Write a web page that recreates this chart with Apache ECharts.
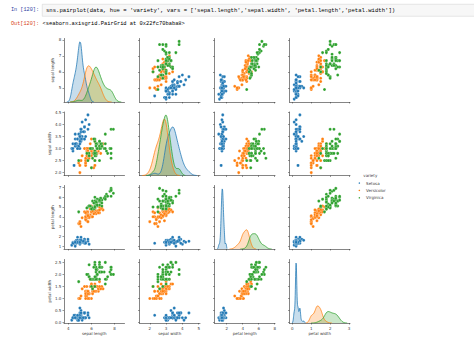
<!DOCTYPE html>
<html><head><meta charset="utf-8">
<script src="https://cdn.jsdelivr.net/npm/echarts@6/dist/echarts.min.js"></script>
<style>html,body{margin:0;padding:0;background:#fff;}#c{width:474px;height:348px;}</style>
</head><body><div id="c"></div>
<script>
// ---------------- DATA (iris) ----------------
const varieties = ['Setosa', 'Versicolor', 'Virginica'];
const varLabels = ['sepal length', 'sepal width', 'petal length', 'petal width'];

const setosaSepalLength = [5.1,4.9,4.7,4.6,5.0,5.4,4.6,5.0,4.4,4.9,5.4,4.8,4.8,4.3,5.8,5.7,5.4,5.1,5.7,5.1,5.4,5.1,4.6,5.1,4.8,5.0,5.0,5.2,5.2,4.7,4.8,5.4,5.2,5.5,4.9,5.0,5.5,4.9,4.4,5.1,5.0,4.5,4.4,5.0,5.1,4.8,5.1,4.6,5.3,5.0];
const setosaSepalWidth = [3.5,3.0,3.2,3.1,3.6,3.9,3.4,3.4,2.9,3.1,3.7,3.4,3.0,3.0,4.0,4.4,3.9,3.5,3.8,3.8,3.4,3.7,3.6,3.3,3.4,3.0,3.4,3.5,3.4,3.2,3.1,3.4,4.1,4.2,3.1,3.2,3.5,3.6,3.0,3.4,3.5,2.3,3.2,3.5,3.8,3.0,3.8,3.2,3.7,3.3];
const setosaPetalLength = [1.4,1.4,1.3,1.5,1.4,1.7,1.4,1.5,1.4,1.5,1.5,1.6,1.4,1.1,1.2,1.5,1.3,1.4,1.7,1.5,1.7,1.5,1.0,1.7,1.9,1.6,1.6,1.5,1.4,1.6,1.6,1.5,1.5,1.4,1.5,1.2,1.3,1.4,1.3,1.5,1.3,1.3,1.3,1.6,1.9,1.4,1.6,1.4,1.5,1.4];
const setosaPetalWidth = [0.2,0.2,0.2,0.2,0.2,0.4,0.3,0.2,0.2,0.1,0.2,0.2,0.1,0.1,0.2,0.4,0.4,0.3,0.3,0.3,0.2,0.4,0.2,0.5,0.2,0.2,0.4,0.2,0.2,0.2,0.2,0.4,0.1,0.2,0.2,0.2,0.2,0.1,0.2,0.2,0.3,0.3,0.2,0.6,0.4,0.3,0.2,0.2,0.2,0.2];

const versicolorSepalLength = [7.0,6.4,6.9,5.5,6.5,5.7,6.3,4.9,6.6,5.2,5.0,5.9,6.0,6.1,5.6,6.7,5.6,5.8,6.2,5.6,5.9,6.1,6.3,6.1,6.4,6.6,6.8,6.7,6.0,5.7,5.5,5.5,5.8,6.0,5.4,6.0,6.7,6.3,5.6,5.5,5.5,6.1,5.8,5.0,5.6,5.7,5.7,6.2,5.1,5.7];
const versicolorSepalWidth = [3.2,3.2,3.1,2.3,2.8,2.8,3.3,2.4,2.9,2.7,2.0,3.0,2.2,2.9,2.9,3.1,3.0,2.7,2.2,2.5,3.2,2.8,2.5,2.8,2.9,3.0,2.8,3.0,2.9,2.6,2.4,2.4,2.7,2.7,3.0,3.4,3.1,2.3,3.0,2.5,2.6,3.0,2.6,2.3,2.7,3.0,2.9,2.9,2.5,2.8];
const versicolorPetalLength = [4.7,4.5,4.9,4.0,4.6,4.5,4.7,3.3,4.6,3.9,3.5,4.2,4.0,4.7,3.6,4.4,4.5,4.1,4.5,3.9,4.8,4.0,4.9,4.7,4.3,4.4,4.8,5.0,4.5,3.5,3.8,3.7,3.9,5.1,4.5,4.5,4.7,4.4,4.1,4.0,4.4,4.6,4.0,3.3,4.2,4.2,4.2,4.3,3.0,4.1];
const versicolorPetalWidth = [1.4,1.5,1.5,1.3,1.5,1.3,1.6,1.0,1.3,1.4,1.0,1.5,1.0,1.4,1.3,1.4,1.5,1.0,1.5,1.1,1.8,1.3,1.5,1.2,1.3,1.4,1.4,1.7,1.5,1.0,1.1,1.0,1.2,1.6,1.5,1.6,1.5,1.3,1.3,1.3,1.2,1.4,1.2,1.0,1.3,1.2,1.3,1.3,1.1,1.3];

const virginicaSepalLength = [6.3,5.8,7.1,6.3,6.5,7.6,4.9,7.3,6.7,7.2,6.5,6.4,6.8,5.7,5.8,6.4,6.5,7.7,7.7,6.0,6.9,5.6,7.7,6.3,6.7,7.2,6.2,6.1,6.4,7.2,7.4,7.9,6.4,6.3,6.1,7.7,6.3,6.4,6.0,6.9,6.7,6.9,5.8,6.8,6.7,6.7,6.3,6.5,6.2,5.9];
const virginicaSepalWidth = [3.3,2.7,3.0,2.9,3.0,3.0,2.5,2.9,2.5,3.6,3.2,2.7,3.0,2.5,2.8,3.2,3.0,3.8,2.6,2.2,3.2,2.8,2.8,2.7,3.3,3.2,2.8,3.0,2.8,3.0,2.8,3.8,2.8,2.8,2.6,3.0,3.4,3.1,3.0,3.1,3.1,3.1,2.7,3.2,3.3,3.0,2.5,3.0,3.4,3.0];
const virginicaPetalLength = [6.0,5.1,5.9,5.6,5.8,6.6,4.5,6.3,5.8,6.1,5.1,5.3,5.5,5.0,5.1,5.3,5.5,6.7,6.9,5.0,5.7,4.9,6.7,4.9,5.7,6.0,4.8,4.9,5.6,5.8,6.1,6.4,5.6,5.1,5.6,6.1,5.6,5.5,4.8,5.4,5.6,5.1,5.1,5.9,5.7,5.2,5.0,5.2,5.4,5.1];
const virginicaPetalWidth = [2.5,1.9,2.1,1.8,2.2,2.1,1.7,1.8,1.8,2.5,2.0,1.9,2.1,2.0,2.4,2.3,1.8,2.2,2.3,1.5,2.3,2.0,2.0,1.8,2.1,1.8,1.8,1.8,2.1,1.6,1.9,2.0,2.2,1.5,1.4,2.3,2.4,1.8,1.8,2.1,2.4,2.3,1.9,2.3,2.5,2.3,1.9,2.0,2.3,1.8];

// tick labels per variable
const ticksSepalLength = [4, 6, 8];
const ticksSepalWidth = [2, 3, 4, 5];
const ticksPetalLength = [2, 4, 6, 8];
const ticksPetalWidth = [0, 1, 2, 3];
const rowTicksSepalLength = [5, 6, 7, 8];
const rowTicksSepalWidth = [2.0, 2.5, 3.0, 3.5, 4.0, 4.5];
const rowTicksPetalLength = [1, 2, 3, 4, 5, 6, 7];
const rowTicksPetalWidth = [0.0, 0.5, 1.0, 1.5, 2.0, 2.5];

// ---------------- assembly ----------------
const dataBy = [
  [setosaSepalLength, setosaSepalWidth, setosaPetalLength, setosaPetalWidth],
  [versicolorSepalLength, versicolorSepalWidth, versicolorPetalLength, versicolorPetalWidth],
  [virginicaSepalLength, virginicaSepalWidth, virginicaPetalLength, virginicaPetalWidth]
];
const colTicks = [ticksSepalLength, ticksSepalWidth, ticksPetalLength, ticksPetalWidth];
const rowTicks = [rowTicksSepalLength, rowTicksSepalWidth, rowTicksPetalLength, rowTicksPetalWidth];
const rowDecimals = [0, 1, 0, 1];

// axis limits (seaborn/matplotlib autoscale)
const colRange = [[3.63, 8.86], [1.37, 5.08], [0.47, 8.04], [-0.15, 3.05]];
const rowRange = [[4.12, 8.08], [1.88, 4.52], [0.705, 7.195], [-0.02, 2.62]];

const colors = ['#1f77b4', '#ff7f0e', '#2ca02c'];
const FONT = 'DejaVu Sans';
const MONO = 'Liberation Mono';

// gaussian KDE as in seaborn 0.9 (statsmodels scott bandwidth, cut=3, gridsize=100)
function pct(sorted, p) {
  const idx = (sorted.length - 1) * p, lo = Math.floor(idx), hi = Math.ceil(idx);
  return sorted[lo] + (sorted[hi] - sorted[lo]) * (idx - lo);
}
function kde(vals) {
  const n = vals.length;
  const mean = vals.reduce((a, b) => a + b, 0) / n;
  const sd = Math.sqrt(vals.reduce((a, b) => a + (b - mean) * (b - mean), 0) / (n - 1));
  const s = vals.slice().sort((a, b) => a - b);
  const iqr = (pct(s, 0.75) - pct(s, 0.25)) / 1.349;
  const bw = 1.059 * Math.min(sd, iqr) * Math.pow(n, -0.2);
  const lo = s[0] - 3 * bw, hi = s[n - 1] + 3 * bw, G = 100;
  const out = [];
  for (let i = 0; i < G; i++) {
    const x = lo + (hi - lo) * i / (G - 1);
    let d = 0;
    for (const v of vals) { const z = (x - v) / bw; d += Math.exp(-0.5 * z * z); }
    out.push([x, d / (n * bw * Math.sqrt(2 * Math.PI))]);
  }
  return out;
}

const lefts = [64, 139.5, 214.5, 289.5];
const tops = [38.5, 112, 185.5, 259.5];
const W = 60.5, H = 63.5;
const axisColor = '#333';
const textColor = '#3a3a3a';

const grids = [], xAxes = [], yAxes = [], series = [];
for (let r = 0; r < 4; r++) {
  for (let c = 0; c < 4; c++) {
    const gi = r * 4 + c;
    grids.push({ left: lefts[c], top: tops[r], width: W, height: H, containLabel: false, outerBoundsMode: 'none' });
    xAxes.push({
      type: 'value', gridIndex: gi, min: colRange[c][0], max: colRange[c][1],
      splitLine: { show: false },
      axisLine: { show: true, onZero: false, lineStyle: { color: axisColor, width: 0.6 } },
      axisTick: { show: true, inside: false, length: 1.5, customValues: colTicks[c], lineStyle: { color: axisColor, width: 0.5 } },
      axisLabel: { show: r === 3, customValues: colTicks[c], margin: 3, fontSize: 4, color: textColor, fontFamily: FONT,
        formatter: v => String(Math.round(v)) },
      name: r === 3 ? varLabels[c] : '', nameLocation: 'middle', nameGap: 8.5,
      nameTextStyle: { fontSize: 4, color: textColor, fontFamily: FONT }
    });
    yAxes.push({
      type: 'value', gridIndex: gi, min: rowRange[r][0], max: rowRange[r][1],
      splitLine: { show: false },
      axisLine: { show: true, onZero: false, lineStyle: { color: axisColor, width: 0.6 } },
      axisTick: { show: true, inside: false, length: 1.5, customValues: rowTicks[r], lineStyle: { color: axisColor, width: 0.5 } },
      axisLabel: { show: c === 0, customValues: rowTicks[r], margin: 2.6, fontSize: 4, color: textColor, fontFamily: FONT,
        formatter: v => v.toFixed(rowDecimals[r]) },
      name: c === 0 ? varLabels[r] : '', nameLocation: 'middle', nameRotate: 90,
      nameGap: rowDecimals[r] ? 10 : 7.5,
      nameTextStyle: { fontSize: 4, color: textColor, fontFamily: FONT }
    });
    if (r !== c) {
      for (let k = 0; k < 3; k++) {
        const xs = dataBy[k][c], ys = dataBy[k][r];
        series.push({
          type: 'scatter', name: varieties[k], xAxisIndex: gi, yAxisIndex: gi,
          data: xs.map((x, i) => [x, ys[i]]),
          symbol: 'circle', symbolSize: 3, silent: true,
          itemStyle: { color: colors[k], borderColor: '#fff', borderWidth: 0.25, opacity: 1 }
        });
      }
    }
  }
}
// hidden density axes for the diagonal
for (let c = 0; c < 4; c++) {
  const gi = c * 4 + c;
  yAxes.push({ type: 'value', gridIndex: gi, show: false, min: 0, max: v => v.max * 1.05, splitLine: { show: false } });
  const yi = yAxes.length - 1;
  for (let k = 0; k < 3; k++) {
    series.push({
      type: 'line', name: varieties[k], xAxisIndex: gi, yAxisIndex: yi,
      data: kde(dataBy[k][c]), showSymbol: false, symbol: 'none', silent: true, smooth: false,
      lineStyle: { color: colors[k], width: 0.75 },
      itemStyle: { color: colors[k] },
      areaStyle: { color: colors[k], opacity: 0.25, origin: 'start' }
    });
  }
}

const codeRich = {
  n: { fontFamily: MONO, fontSize: 5.6, color: '#000' },
  o: { fontFamily: MONO, fontSize: 5.6, color: '#AA22FF' },
  s: { fontFamily: MONO, fontSize: 5.6, color: '#BA2121' }
};

const option = {
  animation: false,
  backgroundColor: '#fff',
  grid: grids, xAxis: xAxes, yAxis: yAxes, series: series,
  legend: {
    data: varieties.map(v => ({ name: v, icon: 'circle' })),
    orient: 'vertical', left: 356.6, top: 180.3, padding: 0,
    itemWidth: 3.5, itemHeight: 3.5, itemGap: 1.9, selectedMode: false,
    textStyle: { fontSize: 4, lineHeight: 4, color: textColor, fontFamily: FONT }
  },
  graphic: [
    { type: 'rect', left: 42, top: 4, shape: { width: 440, height: 12 }, style: { fill: '#f7f7f7', stroke: '#cfcfcf', lineWidth: 0.5 }, silent: true },
    { type: 'text', x: 11, y: 10, style: { text: 'In [120]:', fill: '#303F9F', font: '5.2px "Liberation Mono"', verticalAlign: 'middle' } },
    { type: 'text', x: 46, y: 10, style: {
        text: "{n|sns.pairplot(data, hue }{o|=}{n| }{s|'variety'}{n|, vars }{o|=}{n| [}{s|'sepal.length'}{n|,}{s|'sepal.width'}{n|, }{s|'petal.length'}{n|,}{s|'petal.width'}{n|])}",
        rich: codeRich, verticalAlign: 'middle', font: '5.6px "Liberation Mono"' } },
    { type: 'text', x: 11, y: 24, style: { text: 'Out[120]:', fill: '#D84315', font: '5.2px "Liberation Mono"', verticalAlign: 'middle' } },
    { type: 'text', x: 42.5, y: 24, style: { text: '<seaborn.axisgrid.PairGrid at 0x22fc70baba8>', fill: '#000', font: '5.4px "Liberation Mono"', verticalAlign: 'middle' } },
    { type: 'text', x: 363.3, y: 175.8, style: { text: 'variety', fill: textColor, font: '4px "DejaVu Sans"', verticalAlign: 'middle' } }
  ]
};

const chart = echarts.init(document.getElementById('c'), null, { renderer: 'svg' });
chart.setOption(option);
</script>
</body></html>
